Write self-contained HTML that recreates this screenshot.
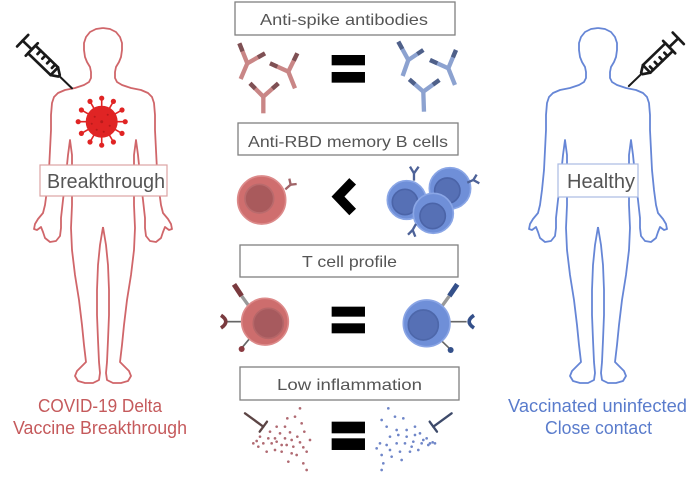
<!DOCTYPE html>
<html><head><meta charset="utf-8"><style>
html,body{margin:0;padding:0;background:#fff;overflow:hidden}
svg{display:block}
text{font-family:"Liberation Sans",Arial,sans-serif}
</style></head><body>
<svg width="700" height="478" viewBox="0 0 700 478" xmlns="http://www.w3.org/2000/svg">
<defs>
<polyline id="half" points="103,28 96,29 90,32 86,37 84,43 84,50 85,57 87,62 90,67 91,72 91,78 89,82 84,85 75,88 65,90 58,93 54,97 52,103 51,115 51,130 50,150 49,170 47,190 45,205 43,213 38,219 35,224 34,229 37,230 41,227 43,232 45,238 50,242 56,241 60,236 61,228 61,218 63,200 66,175 68,155 70,140 72,155 72,180 72,205 71,228 72,250 75,275 79,300 82,325 84,345 86,362 82,366 77,371 75,376 78,381 85,383 93,383 99,380 100,373 99,362 98,340 97,315 97,290 98,265 100,245 103,227"/>
<g id="syr" fill="none" stroke="#1a1a1a" stroke-width="8" stroke-linecap="round" stroke-linejoin="round">
<line x1="0" y1="-24" x2="0" y2="24"/>
<line x1="0" y1="0" x2="38" y2="0"/>
<line x1="38" y1="-26" x2="38" y2="26"/>
<rect x="38" y="-16" width="94" height="32"/>
<line x1="60" y1="-16" x2="60" y2="-2"/>
<line x1="80" y1="-16" x2="80" y2="-2"/>
<line x1="100" y1="-16" x2="100" y2="-2"/>
<line x1="120" y1="-16" x2="120" y2="-2"/>
<polyline points="132,-16 152,-3 152,3 132,16"/>
<line x1="152" y1="0" x2="206" y2="0" stroke-width="6"/>
</g>
</defs>

<!-- Left figure -->
<g fill="none" stroke="#d0666a" stroke-width="1.8" stroke-linejoin="round">
<use href="#half"/>
<use href="#half" transform="translate(206,0) scale(-1,1)"/>
</g>
<!-- Right figure -->
<g fill="none" stroke="#6686d6" stroke-width="1.8" stroke-linejoin="round" transform="translate(495,0)">
<use href="#half"/>
<use href="#half" transform="translate(206,0) scale(-1,1)"/>
</g>

<!-- syringes -->
<g transform="scale(0.3333)">
<use href="#syr" transform="translate(68,122) rotate(44)"/>
<use href="#syr" transform="translate(2035,115) rotate(136)"/>
</g>

<!-- virus -->
<g transform="translate(101.7,121.7)" fill="#e02424" stroke="#e02424">
<g stroke-width="1.6">
<line x1="0" y1="0" x2="0" y2="-23"/><line x1="0" y1="0" x2="0" y2="23"/>
<line x1="0" y1="0" x2="23" y2="0"/><line x1="0" y1="0" x2="-23" y2="0"/>
<line x1="0" y1="0" x2="11.5" y2="19.9"/><line x1="0" y1="0" x2="-11.5" y2="19.9"/>
<line x1="0" y1="0" x2="11.5" y2="-19.9"/><line x1="0" y1="0" x2="-11.5" y2="-19.9"/>
<line x1="0" y1="0" x2="19.9" y2="11.5"/><line x1="0" y1="0" x2="-19.9" y2="11.5"/>
<line x1="0" y1="0" x2="19.9" y2="-11.5"/><line x1="0" y1="0" x2="-19.9" y2="-11.5"/>
</g>
<g stroke="none">
<circle cx="0" cy="-23.5" r="2.6"/><circle cx="0" cy="23.5" r="2.6"/>
<circle cx="23.5" cy="0" r="2.6"/><circle cx="-23.5" cy="0" r="2.6"/>
<circle cx="11.7" cy="20.3" r="2.6"/><circle cx="-11.7" cy="20.3" r="2.6"/>
<circle cx="11.7" cy="-20.3" r="2.6"/><circle cx="-11.7" cy="-20.3" r="2.6"/>
<circle cx="20.3" cy="11.7" r="2.6"/><circle cx="-20.3" cy="11.7" r="2.6"/>
<circle cx="20.3" cy="-11.7" r="2.6"/><circle cx="-20.3" cy="-11.7" r="2.6"/>
<circle cx="0" cy="0" r="16"/>
<g fill="#b81a1a"><circle cx="0" cy="0" r="1.5"/><circle cx="-7" cy="-5" r="1"/><circle cx="6" cy="-7" r="1"/><circle cx="8" cy="4" r="1"/><circle cx="-5" cy="8" r="1"/><circle cx="-10" cy="2" r="1"/><circle cx="2" cy="10" r="1"/></g>
</g>
</g>

<!-- figure label boxes -->
<rect x="40" y="165" width="127" height="31" fill="#fff" stroke="#dba3a3" stroke-width="1.2"/>
<text x="47" y="188" font-size="20" fill="#555" textLength="118" lengthAdjust="spacingAndGlyphs">Breakthrough</text>
<rect x="558" y="164" width="80" height="33" fill="#fff" stroke="#aabbe3" stroke-width="1.2"/>
<text x="567" y="188" font-size="20" fill="#555" textLength="68" lengthAdjust="spacingAndGlyphs">Healthy</text>

<!-- bottom captions -->
<text x="38" y="412" font-size="18" fill="#c55a5c" textLength="124" lengthAdjust="spacingAndGlyphs">COVID-19 Delta</text>
<text x="13" y="434" font-size="18" fill="#c55a5c" textLength="174" lengthAdjust="spacingAndGlyphs">Vaccine Breakthrough</text>
<text x="508" y="412" font-size="18" fill="#5a7ccc" textLength="179" lengthAdjust="spacingAndGlyphs">Vaccinated uninfected</text>
<text x="545" y="434" font-size="18" fill="#5a7ccc" textLength="107" lengthAdjust="spacingAndGlyphs">Close contact</text>

<!-- center boxes -->
<g fill="#fff" stroke="#808080" stroke-width="1.3">
<rect x="235" y="2" width="220" height="33"/>
<rect x="238" y="123" width="220" height="32"/>
<rect x="240" y="245" width="218" height="32"/>
<rect x="240" y="367" width="219" height="33"/>
</g>
<g font-size="16" fill="#555">
<text x="260" y="25" textLength="168" lengthAdjust="spacingAndGlyphs">Anti-spike antibodies</text>
<text x="248" y="147" textLength="200" lengthAdjust="spacingAndGlyphs">Anti-RBD memory B cells</text>
<text x="302" y="267" textLength="95" lengthAdjust="spacingAndGlyphs">T cell profile</text>
<text x="277" y="390" textLength="145" lengthAdjust="spacingAndGlyphs">Low inflammation</text>
</g>

<!-- panel 1: antibodies -->
<g transform="translate(210,0) scale(0.3333)" stroke-linecap="butt">
<g stroke="#c98686" stroke-width="13">
<line x1="112" y1="190" x2="88" y2="130"/><line x1="112" y1="190" x2="165" y2="160"/><line x1="112" y1="190" x2="92" y2="237"/>
<line x1="235" y1="215" x2="180" y2="190"/><line x1="235" y1="215" x2="262" y2="160"/><line x1="235" y1="215" x2="255" y2="265"/>
<line x1="160" y1="290" x2="120" y2="250"/><line x1="160" y1="290" x2="205" y2="250"/><line x1="160" y1="290" x2="160" y2="340"/>
</g>
<g stroke="#7e5054" stroke-width="13">
<line x1="97.6" y1="154" x2="88" y2="130"/><line x1="143.8" y1="172" x2="165" y2="160"/>
<line x1="202" y1="200" x2="180" y2="190"/><line x1="251.2" y1="182" x2="262" y2="160"/>
<line x1="136" y1="266" x2="120" y2="250"/><line x1="187" y1="266" x2="205" y2="250"/>
</g>
<g stroke="#8ca2d0" stroke-width="13">
<line x1="595" y1="180" x2="565" y2="125"/><line x1="595" y1="180" x2="640" y2="150"/><line x1="595" y1="180" x2="578" y2="228"/>
<line x1="715" y1="205" x2="660" y2="180"/><line x1="715" y1="205" x2="738" y2="150"/><line x1="715" y1="205" x2="735" y2="255"/>
<line x1="640" y1="275" x2="598" y2="238"/><line x1="640" y1="275" x2="688" y2="240"/><line x1="640" y1="275" x2="642" y2="335"/>
</g>
<g stroke="#4f6089" stroke-width="13">
<line x1="577" y1="147" x2="565" y2="125"/><line x1="622" y1="162" x2="640" y2="150"/>
<line x1="682" y1="190" x2="660" y2="180"/><line x1="728.8" y1="172" x2="738" y2="150"/>
<line x1="614.8" y1="252.8" x2="598" y2="238"/><line x1="668.8" y1="254" x2="688" y2="240"/>
</g>
<rect x="365" y="165" width="100" height="31" fill="#000"/>
<rect x="365" y="216" width="100" height="32" fill="#000"/>
</g>

<!-- panel 2: B cells -->
<g transform="translate(210,120) scale(0.3333)">
<circle cx="155" cy="240" r="72" fill="#cf6e6e" stroke="#dc8a8a" stroke-width="5"/>
<circle cx="148" cy="236" r="43" fill="#a95a5c" stroke="#b96a6c" stroke-width="5"/>
<g stroke="#a06468" stroke-width="7"><line x1="226" y1="208" x2="242" y2="194"/><line x1="242" y1="194" x2="238" y2="176"/><line x1="242" y1="194" x2="260" y2="192"/></g>
<polyline points="428,184 384,230 428,276" fill="none" stroke="#000" stroke-width="28" stroke-linejoin="miter" stroke-miterlimit="10"/>
<circle cx="720" cy="205" r="62" fill="#6f8fd8" stroke="#8aa6e6" stroke-width="5"/>
<circle cx="712" cy="212" r="38" fill="#5670b5" stroke="#4b64a8" stroke-width="5"/>
<circle cx="590" cy="240" r="58" fill="#6f8fd8" stroke="#8aa6e6" stroke-width="5"/>
<circle cx="585" cy="246" r="38" fill="#5670b5" stroke="#4b64a8" stroke-width="5"/>
<circle cx="670" cy="280" r="60" fill="#6f8fd8" stroke="#8aa6e6" stroke-width="5"/>
<circle cx="668" cy="288" r="38" fill="#5670b5" stroke="#4b64a8" stroke-width="5"/>
<g stroke="#4d6298" stroke-width="7">
<line x1="612" y1="182" x2="612" y2="160"/><line x1="612" y1="160" x2="600" y2="140"/><line x1="612" y1="160" x2="626" y2="140"/>
<line x1="772" y1="188" x2="790" y2="180"/><line x1="790" y1="180" x2="800" y2="164"/><line x1="790" y1="180" x2="808" y2="190"/>
<line x1="618" y1="312" x2="608" y2="330"/><line x1="608" y1="330" x2="594" y2="344"/><line x1="608" y1="330" x2="616" y2="350"/>
</g>
</g>

<!-- panel 3: T cells -->
<g transform="translate(210,240) scale(0.3333)">
<line x1="118" y1="200" x2="95" y2="168" stroke="#999" stroke-width="10"/>
<line x1="95" y1="168" x2="72" y2="133" stroke="#7a3a3e" stroke-width="15"/>
<line x1="97" y1="245" x2="50" y2="245" stroke="#666" stroke-width="5"/>
<path d="M33,226 Q62,245 33,264" fill="none" stroke="#7a3a3e" stroke-width="11"/>
<line x1="122" y1="292" x2="97" y2="322" stroke="#666" stroke-width="5"/>
<circle cx="95" cy="327" r="9" fill="#8a3a40"/>
<circle cx="165" cy="245" r="70" fill="#cd6d6d" stroke="#dd8a8a" stroke-width="5"/>
<circle cx="175" cy="250" r="45" fill="#a75a5e" stroke="#b56668" stroke-width="5"/>
<rect x="365" y="200" width="100" height="30" fill="#000"/>
<rect x="365" y="250" width="100" height="30" fill="#000"/>
<line x1="695" y1="200" x2="718" y2="168" stroke="#999" stroke-width="10"/>
<line x1="718" y1="168" x2="742" y2="133" stroke="#34508a" stroke-width="15"/>
<line x1="715" y1="245" x2="770" y2="245" stroke="#666" stroke-width="5"/>
<path d="M792,226 Q763,245 792,264" fill="none" stroke="#34508a" stroke-width="11"/>
<line x1="690" y1="298" x2="718" y2="325" stroke="#666" stroke-width="5"/>
<circle cx="722" cy="330" r="9" fill="#34508a"/>
<circle cx="650" cy="250" r="70" fill="#6f8fd8" stroke="#8aa5e5" stroke-width="5"/>
<circle cx="640" cy="255" r="45" fill="#5670b5" stroke="#4d67aa" stroke-width="5"/>
</g>

<!-- panel 4: inflammation -->
<g transform="translate(210,355) scale(0.3333)">
<g stroke="#5c4545" stroke-width="7" stroke-linecap="round">
<line x1="105" y1="175" x2="160" y2="215"/><line x1="149" y1="230" x2="171" y2="200"/>
</g>
<g stroke="#3d4a6a" stroke-width="7" stroke-linecap="round">
<line x1="725" y1="175" x2="670" y2="215"/><line x1="681" y1="230" x2="659" y2="200"/>
</g>
<rect x="365" y="200" width="100" height="35" fill="#000"/>
<rect x="365" y="250" width="100" height="35" fill="#000"/>
<g fill="#b06a72">
<circle cx="270" cy="160" r="4"/><circle cx="255" cy="185" r="4"/><circle cx="232" cy="190" r="4"/><circle cx="275" cy="205" r="4"/><circle cx="200" cy="215" r="4"/><circle cx="225" cy="215" r="4"/><circle cx="180" cy="230" r="4"/><circle cx="210" cy="235" r="4"/><circle cx="240" cy="232" r="4"/><circle cx="262" cy="245" r="4"/><circle cx="283" cy="230" r="4"/><circle cx="150" cy="245" r="4"/><circle cx="175" cy="250" r="4"/><circle cx="195" cy="250" r="4"/><circle cx="225" cy="250" r="4"/><circle cx="245" cy="255" r="4"/><circle cx="270" cy="262" r="4"/><circle cx="300" cy="255" r="4"/><circle cx="130" cy="265" r="4"/><circle cx="160" cy="265" r="4"/><circle cx="185" cy="265" r="4"/><circle cx="215" cy="270" r="4"/><circle cx="250" cy="275" r="4"/><circle cx="280" cy="277" r="4"/><circle cx="145" cy="275" r="4"/><circle cx="195" cy="285" r="4"/><circle cx="215" cy="290" r="4"/><circle cx="245" cy="295" r="4"/><circle cx="290" cy="290" r="4"/><circle cx="235" cy="320" r="4"/><circle cx="280" cy="325" r="4"/><circle cx="290" cy="345" r="4"/><circle cx="170" cy="290" r="4"/><circle cx="200" cy="260" r="4"/><circle cx="140" cy="258" r="4"/><circle cx="230" cy="270" r="4"/><circle cx="260" cy="300" r="4"/>
</g>
<g fill="#6f86c8">
<circle cx="535" cy="160" r="4"/><circle cx="515" cy="195" r="4"/><circle cx="555" cy="185" r="4"/><circle cx="580" cy="190" r="4"/><circle cx="530" cy="215" r="4"/><circle cx="560" cy="225" r="4"/><circle cx="590" cy="225" r="4"/><circle cx="615" cy="215" r="4"/><circle cx="540" cy="245" r="4"/><circle cx="565" cy="240" r="4"/><circle cx="590" cy="245" r="4"/><circle cx="615" cy="240" r="4"/><circle cx="630" cy="235" r="4"/><circle cx="650" cy="250" r="4"/><circle cx="510" cy="265" r="4"/><circle cx="530" cy="270" r="4"/><circle cx="560" cy="265" r="4"/><circle cx="585" cy="265" r="4"/><circle cx="610" cy="260" r="4"/><circle cx="635" cy="265" r="4"/><circle cx="660" cy="265" r="4"/><circle cx="675" cy="265" r="4"/><circle cx="500" cy="280" r="4"/><circle cx="540" cy="285" r="4"/><circle cx="570" cy="290" r="4"/><circle cx="600" cy="290" r="4"/><circle cx="625" cy="285" r="4"/><circle cx="515" cy="300" r="4"/><circle cx="545" cy="305" r="4"/><circle cx="575" cy="315" r="4"/><circle cx="520" cy="325" r="4"/><circle cx="515" cy="345" r="4"/><circle cx="605" cy="275" r="4"/><circle cx="640" cy="255" r="4"/><circle cx="655" cy="270" r="4"/><circle cx="668" cy="262" r="4"/>
</g>
</g>
</svg>
</body></html>
